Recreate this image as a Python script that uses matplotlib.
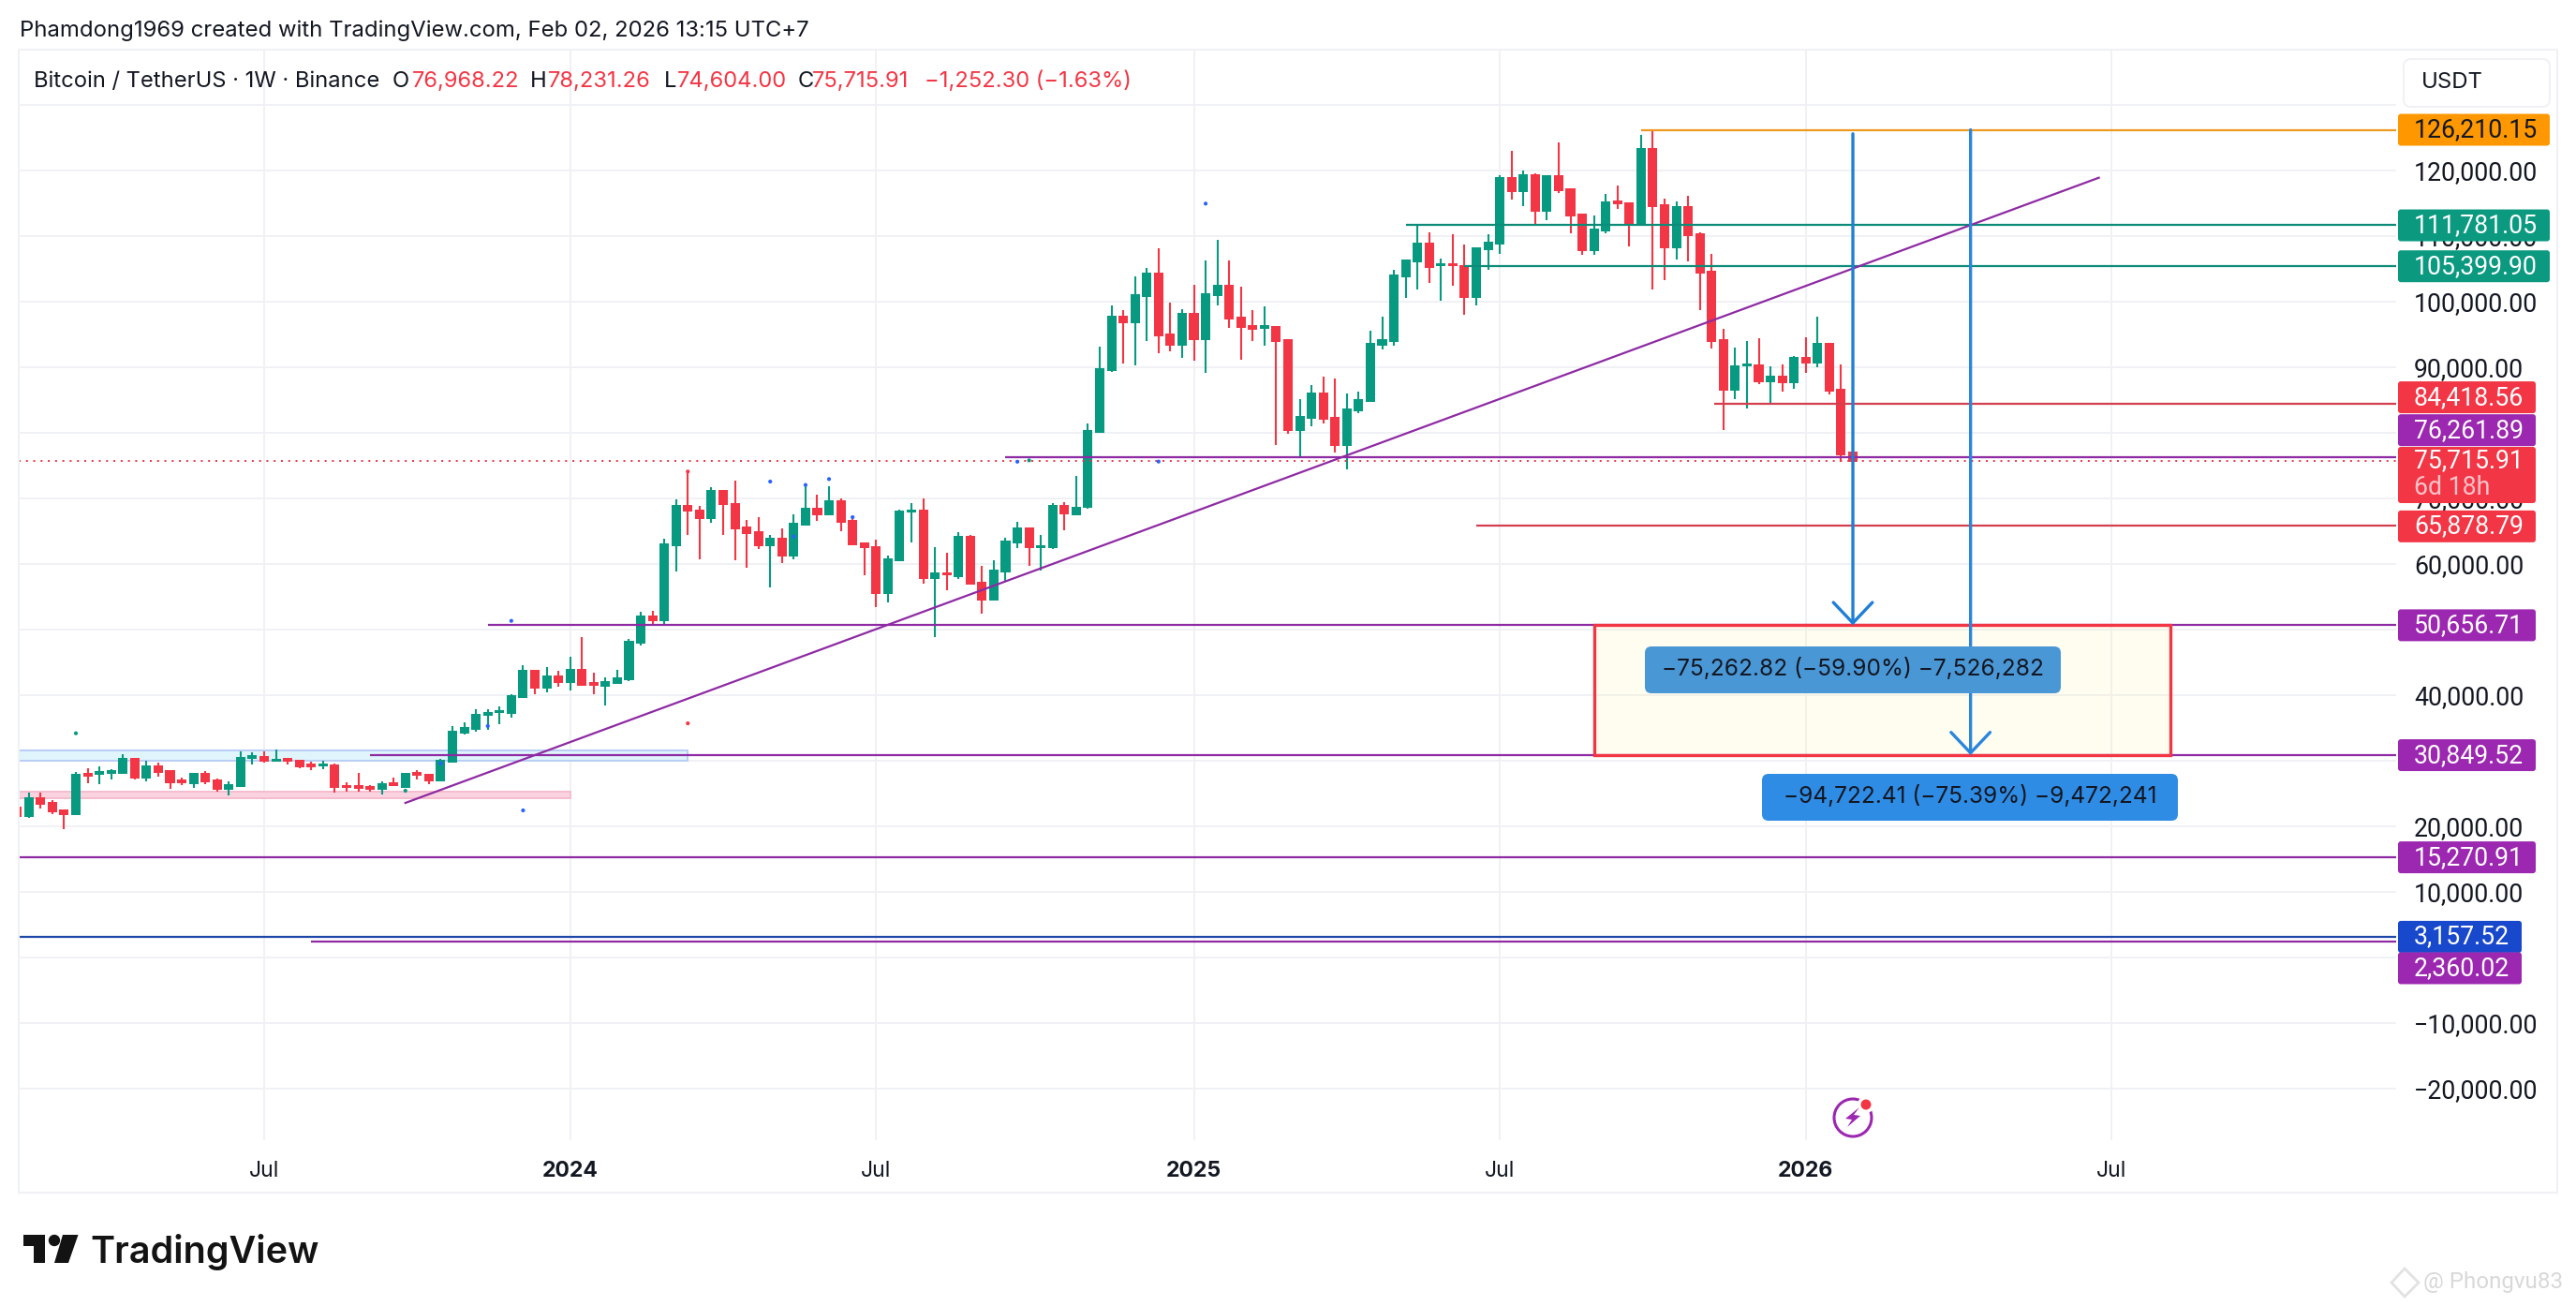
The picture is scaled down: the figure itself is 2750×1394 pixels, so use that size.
import numpy as np
import matplotlib
matplotlib.use("Agg")
import matplotlib.pyplot as plt
from matplotlib.patches import FancyBboxPatch, Polygon, Circle, Rectangle, Arc
from matplotlib.transforms import IdentityTransform

plt.rcParams['font.family'] = ['Inter', 'DejaVu Sans']
NUM_FONT = ['Roboto', 'DejaVu Sans']

# ---------- data (weekly OHLC, thousand USDT) ----------
opens = [22.81,21.57,24.29,23.52,22.43,21.86,28.05,28.00,28.19,28.19,
 30.29,27.48,29.14,28.43,26.95,26.57,28.00,26.95,25.76,26.14,
 30.48,30.52,30.00,30.24,29.95,29.38,29.24,29.29,26.19,26.10,
 25.95,25.71,26.57,26.00,28.10,27.86,27.00,29.90,34.33,34.86,
 36.95,37.38,37.29,39.76,43.71,41.19,42.81,42.00,43.85,41.81,
 41.43,41.86,42.43,48.04,51.95,51.47,62.90,68.85,68.23,67.04,
 71.14,69.23,65.52,64.85,62.85,63.81,61.28,66.04,68.38,67.57,
 69.52,66.52,63.09,62.66,55.61,60.61,68.04,68.09,57.90,58.66,
 58.19,64.09,57.09,54.57,58.90,63.33,65.38,62.61,62.57,68.85,
 67.61,68.70,80.19,89.57,97.71,96.86,100.86,104.29,95.00,93.43,
 98.14,94.29,101.00,102.43,97.57,96.24,96.05,96.14,94.14,80.43,
 82.29,86.00,82.29,78.14,83.43,84.86,93.43,94.00,103.86,106.14,
 108.86,105.52,105.76,105.43,100.71,108.00,108.86,118.86,116.86,119.29,
 113.86,119.14,117.14,113.29,107.86,110.86,115.24,115.00,111.86,123.29,
 114.71,108.29,114.43,110.29,104.57,94.14,86.57,90.24,90.29,87.86,
 88.57,87.71,91.43,90.71,93.57,86.57,76.97]
closes = [21.57,24.29,23.48,22.33,21.86,27.86,27.71,28.29,28.48,30.24,
 27.43,29.14,28.29,26.76,26.67,28.00,26.86,25.67,26.24,30.38,
 30.76,30.05,30.19,30.00,29.14,29.19,29.38,26.00,25.95,25.86,
 25.71,26.43,26.33,28.00,27.86,27.00,30.00,34.38,34.95,36.95,
 37.24,37.52,39.86,43.71,41.14,42.81,42.00,43.81,41.52,41.57,
 42.00,42.52,48.14,51.95,51.42,62.99,68.85,68.14,67.04,71.14,
 69.19,65.47,64.76,62.85,63.81,61.28,66.09,68.38,67.61,69.52,
 66.47,63.04,62.61,55.61,60.71,68.00,68.23,57.90,58.52,58.47,
 64.09,57.04,54.61,58.95,63.38,65.38,62.61,62.80,68.85,67.76,
 68.66,80.29,89.71,97.71,96.90,101.00,104.29,94.86,93.43,98.14,
 94.29,101.14,102.43,97.43,96.14,95.86,96.24,94.00,80.43,82.43,
 86.00,82.14,78.14,83.57,85.00,93.57,94.14,104.00,106.29,108.86,
 105.29,105.76,105.52,100.71,108.14,109.00,118.86,116.86,119.29,113.86,
 119.14,117.00,113.14,107.86,111.00,115.14,115.00,111.86,123.29,114.57,
 108.29,114.43,110.14,104.43,94.00,86.57,90.14,90.43,87.86,88.57,
 87.71,91.43,90.71,93.57,86.43,76.71,75.72]
highs = [23.00,25.14,25.14,23.95,22.57,28.24,28.86,29.14,28.67,31.00,
 30.43,29.95,29.71,28.52,27.43,28.10,28.43,27.29,26.81,31.43,
 31.24,31.48,31.71,30.43,30.00,29.90,30.05,29.52,26.71,28.14,
 26.33,26.81,27.38,28.05,28.57,27.95,30.29,35.24,35.86,37.81,
 37.86,38.24,40.10,44.57,43.76,44.24,43.71,45.86,48.86,43.38,
 42.66,43.81,48.52,52.71,52.85,63.81,69.80,74.09,68.85,71.66,
 71.14,72.71,66.71,67.14,64.47,65.38,67.57,72.19,70.52,71.85,
 70.04,66.95,63.23,63.71,61.23,68.23,69.23,70.00,62.52,61.71,
 64.85,64.38,59.71,60.57,63.95,66.38,65.47,64.42,69.23,69.42,
 73.38,81.38,93.14,99.43,98.71,103.86,105.14,108.14,99.86,98.86,
 102.57,106.29,109.43,106.29,102.29,98.71,99.29,96.29,94.29,85.14,
 87.29,88.57,88.29,86.00,86.29,95.57,97.71,104.86,106.43,111.81,
 110.57,106.57,110.29,108.71,108.29,110.29,119.24,123.00,120.00,119.57,
 119.14,124.29,117.29,113.38,113.14,116.43,117.71,115.14,125.43,126.21,
 115.71,115.29,116.14,110.57,107.29,95.86,93.00,94.00,94.43,90.14,
 90.43,91.71,94.57,97.71,93.57,90.43,78.23]
lows = [21.40,21.33,22.76,21.86,19.57,21.76,26.57,26.48,27.19,28.10,
 27.19,26.86,27.57,25.71,26.29,25.86,26.48,25.33,24.76,26.10,
 29.43,29.71,29.90,29.48,28.90,28.57,28.76,25.14,25.33,25.24,
 25.29,24.86,26.29,25.95,27.19,26.43,26.95,29.81,34.00,34.43,
 34.71,35.57,36.57,39.71,40.19,40.38,41.29,40.71,41.47,40.14,
 38.47,41.81,42.19,47.61,50.57,50.90,58.85,64.47,60.76,66.33,
 64.47,60.57,59.47,62.28,56.47,60.14,60.76,65.99,66.57,67.52,
 65.04,62.99,58.33,53.47,54.19,60.57,63.28,57.04,48.90,56.00,
 57.76,56.99,52.42,54.52,57.42,62.47,59.71,58.95,62.28,65.19,
 67.42,68.40,80.14,89.33,90.57,90.29,94.00,92.14,92.43,91.43,
 91.00,89.14,99.43,96.00,91.14,94.00,93.29,78.14,79.86,76.43,
 81.00,81.43,77.00,74.43,83.00,84.81,92.71,93.29,100.57,101.86,
 102.86,100.14,102.43,98.00,99.43,104.86,107.29,115.57,114.57,111.71,
 112.43,116.57,110.43,107.14,107.14,110.43,114.14,108.43,111.71,101.86,
 103.29,106.43,106.14,98.71,92.86,80.43,85.14,83.71,87.43,84.29,
 86.29,86.71,89.14,90.00,85.86,75.52,74.60]

# dots (signal markers)
dot_idx = [5,33,36,40,43,42,64,66,67,69,71,85,86,97,101,57,57]
dot_val = [34.19,25.43,29.6,35.29,22.43,51.33,72.57,64.19,72.05,72.95,67.14,75.6,75.8,75.62,114.95,35.7,74.1]
dot_col = ['#089981','#089981','#2962FF','#2962FF','#2962FF','#2962FF','#2962FF','#2962FF','#2962FF','#2962FF','#2962FF','#2962FF','#089981','#2962FF','#2962FF','#F23645','#F23645']

# horizontal rays: price, start bar index (None = left edge), colour
level_prices = [126210.15,111781.05,105399.90,84418.56,76261.89,65878.79,50656.71,30849.52,15270.91,3157.52,2360.02]
level_starts = [138,118,123,144.2,84,124,40,30,None,None,25]
level_colors = ['#FF9800','#089981','#089981','#F23645','#9C27B0','#F23645','#9C27B0','#9C27B0','#9C27B0','#1848CC','#9C27B0']
line_colors  = ['#EE9A20','#0C8C78','#0C8C78','#D33F4E','#8E2AA3','#D33F4E','#8E2AA3','#8E2AA3','#8E2AA3','#1E48A8','#8E2AA3']

# price-scale tags: text, price, shift (px), right edge (px), bg, fg
tag_text  = ['126,210.15','111,781.05','105,399.90','84,418.56','76,261.89','65,878.79','50,656.71','30,849.52','15,270.91','3,157.52','2,360.02']
tag_shift = [0,1,0,-7,-29,1,0,0,0,0,28]
tag_right = [2722,2722,2722,2707,2707,2707,2707,2707,2707,2692,2692]
tag_fg    = ['#131722']+['white']*10

yticks = list(range(-20000,130001,10000))
yticks_hidden = [0,30000,50000,80000,130000]   # fully covered by price tags in the reference
x_tick_idx = [21,47,73,100,126,152,178]
x_tick_lab = ['Jul','2024','Jul','2025','Jul','2026','Jul']

trend_x = [33.0,176.9]
trend_y = [23570,118900]

W,H = 2750,1394
fig = plt.figure(figsize=(W/100,H/100),dpi=100,facecolor='white')
PX_L,PX_R,PX_T,PX_B = 20,2558,53,1217
ax = fig.add_axes([PX_L/W,1-PX_B/H,(PX_R-PX_L)/W,(PX_B-PX_T)/H])
ax.set_facecolor('white')
BAR = 12.563
ax.set_xlim((PX_L-18.2)/BAR,(PX_R-18.2)/BAR)
ax.set_ylim((1022-PX_B)/0.007,(1022-PX_T)/0.007)
for s in ax.spines.values(): s.set_visible(False)
GRID='#F0F1F5'
ax.set_xticks(x_tick_idx); ax.set_xticklabels(x_tick_lab)
ax.yaxis.tick_right()
ax.set_yticks(yticks)
ax.set_yticklabels(['' if v in yticks_hidden else ('\u2212' if v<0 else '')+f'{abs(v):,.2f}' for v in yticks],family=NUM_FONT)
ax.grid(True,color=GRID,lw=1.4,zorder=0)
ax.set_axisbelow(True)
ax.tick_params(axis='both',length=0)
ax.tick_params(axis='y',pad=13.7,labelsize=19.2,labelcolor='#131722')
ax.tick_params(axis='x',pad=16,labelsize=16.6,labelcolor='#131722')
for lab,txt in zip(ax.get_xticklabels(),x_tick_lab):
    if txt!='Jul': lab.set_fontweight('bold')

# zones
ax.add_patch(Rectangle((-2,30000),59,1620,fc='#E0F5FB',ec='#B9CDF5',lw=1.4,zorder=1))
ax.add_patch(Rectangle((-2,24240),49,1000,fc='#F9D3DF',ec='#F5BCCD',lw=1.4,zorder=1))

# yellow box (between two levels), translucent so the grid shows through
ax.add_patch(Rectangle((134,30849.52),49,50656.71-30849.52,fc=(1,0.96,0.55,0.13),ec='none',zorder=1.5))

# candles
o,c,h,l = [np.array(a)*1000 for a in (opens,closes,highs,lows)]
xs = np.arange(len(o))
cols = np.where(c>=o,'#089981','#F23645')
ax.vlines(xs,l,h,colors=cols,lw=1.5,zorder=3)
ax.bar(xs,np.abs(c-o)+250,bottom=np.minimum(o,c)-125,width=0.8,color=cols,lw=0,zorder=3.1)

# levels
xmin,xmax = ax.get_xlim()
for p,s,col in zip(level_prices,level_starts,line_colors):
    ax.plot([xmin if s is None else s,xmax],[p,p],color=col,lw=1.6,zorder=4,solid_capstyle='butt')
ax.plot([xmin,xmax],[c[-1],c[-1]],color='#EB3345',lw=1.4,ls=(0,(1,3)),zorder=4)
ax.plot(trend_x,trend_y,color='#8E2AA3',lw=1.6,zorder=4)

# dots
ax.scatter(dot_idx,np.array(dot_val)*1000,s=9,c=dot_col,lw=0,zorder=5)

# box edge
ax.add_patch(Rectangle((134,30849.52),49,50656.71-30849.52,fc='none',ec='#F23645',lw=2.4,zorder=5))

# arrows
for x0,y0,y1,lw,col in [(156,125600,50656.71,2.4,'#1F7FD6'),(166,126210,30849.52,2.4,'#2A86DC')]:
    ax.annotate('',xy=(x0,y1),xytext=(x0,y0),zorder=6,
        arrowprops=dict(arrowstyle='->,head_length=15.8,head_width=15.0',mutation_scale=1,shrinkA=0,shrinkB=0,color=col,lw=lw))

idt = IdentityTransform()
def frect(x0,y0,x1,y1,fc,ec='none',r=3,z=3,alpha=None,lw=0):
    p = FancyBboxPatch((x0+r,H-y1+r),x1-x0-2*r,y1-y0-2*r,boxstyle=f'round,pad={r},rounding_size={r}',
        fc=fc,ec=ec,lw=lw,transform=idt,zorder=z,alpha=alpha)
    fig.add_artist(p); return p
def ftext(x,y,s,**k):
    k.setdefault('va','center'); k.setdefault('color','#131722'); k.setdefault('zorder',6)
    return fig.text(x/W,1-y/H,s,**k)

# measure labels
frect(1756,690,2200,740,'#4A97D6',r=7,z=3)
ftext(1978,714,'\u221275,262.82 (\u221259.90%) \u22127,526,282',ha='center',fontsize=17.6)
frect(1881,826,2325,876,'#2F8CE4',r=7,z=3)
ftext(2103,850,'\u221294,722.41 (\u221275.39%) \u22129,472,241',ha='center',fontsize=17.6)

# outer pane border
fig.add_artist(Rectangle((20,H-1273),2710,1220,fc='none',ec=GRID,lw=1.5,transform=idt,zorder=0.5))

# tags
for t,p,sh,r,col,fg in zip(tag_text,level_prices,tag_shift,tag_right,level_colors,tag_fg):
    yd = ax.transData.transform((0,p))[1]
    yc = H-yd+sh
    if t in ('111,781.05','105,399.90'): col='#0B9A80'
    frect(2560,yc-17,r,yc+17,col,z=4)
    ftext(2577,yc,t,color=fg,fontsize=19.2,family=NUM_FONT)
frect(2560,477,2707,537,'#F23645',z=4)
ftext(2577,492,'75,715.91',color='white',fontsize=19.2,family=NUM_FONT)
ftext(2577,520,'6d 18h',color='#FFC4CA',fontsize=19.2,family=NUM_FONT)

# USDT box
frect(2566,63,2722,114,'white',ec=GRID,r=8,lw=1.4,z=3)
ftext(2585,88,'USDT',fontsize=17.2)

# header
ftext(21,33,'Phamdong1969 created with TradingView.com, Feb 02, 2026 13:15 UTC+7',fontsize=17.2)
ftext(36.5,87,'Bitcoin / TetherUS \u00b7 1W \u00b7 Binance',fontsize=17.1)
RED='#F23645'
for x,s,col in [(419,'O','#131722'),(439.5,'76,968.22',RED),(566,'H','#131722'),(584.6,'78,231.26',RED),
                (709,'L','#131722'),(723,'74,604.00',RED),(851.5,'C','#131722'),(866.5,'75,715.91',RED),
                (987,'\u22121,252.30 (\u22121.63%)',RED)]:
    ftext(x,87,s,color=col,fontsize=17.1)

# alert icon
fig.add_artist(Arc((1978,H-1193),40,40,theta1=0,theta2=360,ec='#9C27B0',lw=2.2,transform=idt,zorder=5))
fig.add_artist(Circle((1992,H-1179),9,fc='white',ec='none',transform=idt,zorder=5.1))
fig.add_artist(Circle((1992,H-1179),5.5,fc='#F23645',ec='none',transform=idt,zorder=5.2))
bolt=[(1985,1182),(1970,1194),(1977,1195),(1972,1203),(1986,1191),(1979,1190)]
fig.add_artist(Polygon([(x,H-y) for x,y in bolt],fc='#9C27B0',ec='none',transform=idt,zorder=5.2))

# TradingView logo
LOGO='#131313'
fig.add_artist(Polygon([(x,H-y) for x,y in [(24.5,1318),(48,1318),(48,1348),(36,1348),(36,1330),(24.5,1330)]],fc=LOGO,ec='none',transform=idt,zorder=5))
fig.add_artist(Circle((58,H-1324),6.2,fc=LOGO,ec='none',transform=idt,zorder=5))
fig.add_artist(Polygon([(x,H-y) for x,y in [(67,1318),(83.5,1318),(73,1348),(58,1348)]],fc=LOGO,ec='none',transform=idt,zorder=5))
ftext(96,1336,'TradingView',fontsize=28.5,fontweight='semibold',color=LOGO)

# watermark
fig.add_artist(Polygon([(x,H-y) for x,y in [(2567,1354),(2582,1369),(2567,1384),(2553,1369)]],fc='none',ec='#E2E2E2',lw=2,transform=idt,zorder=5))
ftext(2587,1369,'@ Phongvu83',color='#D8D8D8',fontsize=17.4,family=NUM_FONT)

fig.savefig('out.png',dpi=100,facecolor='white')
